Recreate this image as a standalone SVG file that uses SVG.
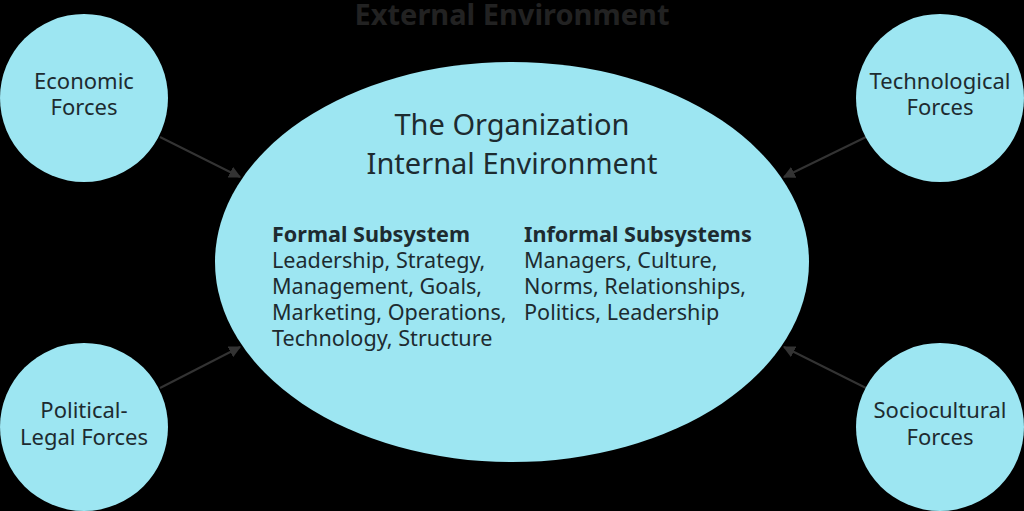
<svg xmlns="http://www.w3.org/2000/svg" width="1024" height="511" viewBox="0 0 1024 511">
<style>
.bg{fill:#000}
.shape{fill:#9de6f2}
text{font-family:"Noto Sans","Open Sans","DejaVu Sans",sans-serif;fill:#1d2b30}
.lbl{font-size:22px;text-anchor:middle}
.title{font-size:29px;text-anchor:middle}
.body{font-size:21.6px}
.bold{font-weight:bold}
.ext{font-size:29px;font-weight:bold;text-anchor:middle;fill:#222}
.conn{stroke:#333;stroke-width:2;fill:none;marker-end:url(#ah)}
</style>
<defs>
<marker id="ah" viewBox="0 0 10 10" refX="9" refY="5" markerWidth="6" markerHeight="6" orient="auto" markerUnits="strokeWidth">
<path d="M0,0 L10,5 L0,10 z" fill="#333"/>
</marker>
</defs>
<rect class="bg" x="0" y="0" width="1024" height="511"/>
<text class="ext" x="512" y="25">External Environment</text>
<g id="connectors">
<line class="conn" x1="160" y1="137" x2="240" y2="177"/>
<line class="conn" x1="866" y1="137" x2="784" y2="177"/>
<line class="conn" x1="160" y1="388" x2="240" y2="347"/>
<line class="conn" x1="866" y1="388" x2="784" y2="347"/>
</g>
<g id="organization">
<ellipse class="shape" cx="512" cy="262" rx="297" ry="200"/>
<text class="title" x="512" y="135">The Organization</text>
<text class="title" x="512" y="174">Internal Environment</text>
<text class="body" x="272" y="242"><tspan class="bold">Formal Subsystem</tspan><tspan x="272" dy="26">Leadership, Strategy,</tspan><tspan x="272" dy="26">Management, Goals,</tspan><tspan x="272" dy="26">Marketing, Operations,</tspan><tspan x="272" dy="26">Technology, Structure</tspan></text>
<text class="body" x="524" y="242"><tspan class="bold">Informal Subsystems</tspan><tspan x="524" dy="26">Managers, Culture,</tspan><tspan x="524" dy="26">Norms, Relationships,</tspan><tspan x="524" dy="26">Politics, Leadership</tspan></text>
</g>
<g id="economic">
<circle class="shape" cx="84" cy="98" r="84"/>
<text class="lbl" x="84" y="89">Economic</text>
<text class="lbl" x="84" y="115">Forces</text>
</g>
<g id="technological">
<circle class="shape" cx="940" cy="98" r="84"/>
<text class="lbl" x="940" y="89">Technological</text>
<text class="lbl" x="940" y="115">Forces</text>
</g>
<g id="political">
<circle class="shape" cx="84" cy="427" r="84"/>
<text class="lbl" x="84" y="418">Political-</text>
<text class="lbl" x="84" y="445">Legal Forces</text>
</g>
<g id="sociocultural">
<circle class="shape" cx="940" cy="427" r="84"/>
<text class="lbl" x="940" y="418">Sociocultural</text>
<text class="lbl" x="940" y="445">Forces</text>
</g>
</svg>
